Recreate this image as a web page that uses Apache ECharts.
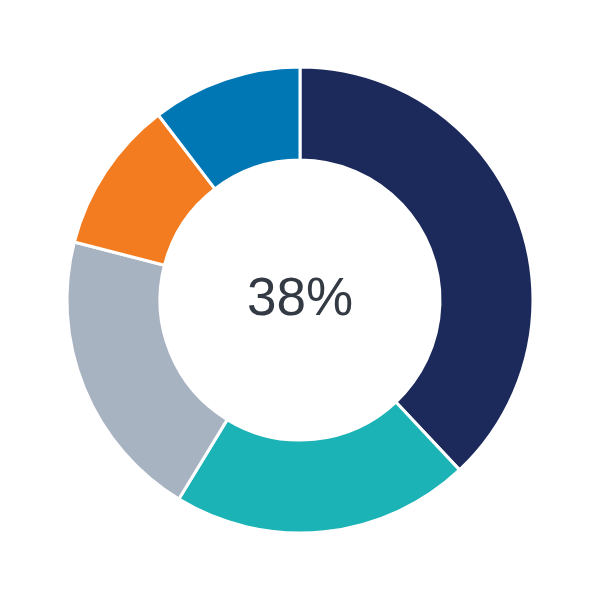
<!DOCTYPE html>
<html><head><meta charset="utf-8">
<script src="https://cdn.jsdelivr.net/npm/echarts@6/dist/echarts.min.js"></script>
<style>html,body{margin:0;padding:0;background:#fff}#c{width:600px;height:600px}</style>
</head><body><div id="c"></div>
<script>
const categories = ['A', 'B', 'C', 'D', 'E'];
const values = [38, 20.7, 20.3, 10.6, 10.4];
const colors = ['#1b2a5a', '#1bb3b6', '#a8b3c2', '#f37c20', '#0077b5'];
const centerLabel = '38%';

const chart = echarts.init(document.getElementById('c'), null, {renderer: 'canvas'});
chart.setOption({
  animation: false,
  color: colors,
  title: {
    text: centerLabel,
    left: 'center', top: 'middle',
    textStyle: {fontFamily: 'Liberation Sans, Arial, sans-serif', fontSize: 53, fontWeight: 'normal', color: '#333a44'}
  },
  series: [{
    type: 'pie',
    center: [300, 300],
    radius: [140, 233],
    startAngle: 90,
    clockwise: true,
    label: {show: false},
    labelLine: {show: false},
    itemStyle: {borderColor: '#fff', borderWidth: 3},
    data: categories.map((c, i) => ({name: c, value: values[i]}))
  }]
});
</script></body></html>
